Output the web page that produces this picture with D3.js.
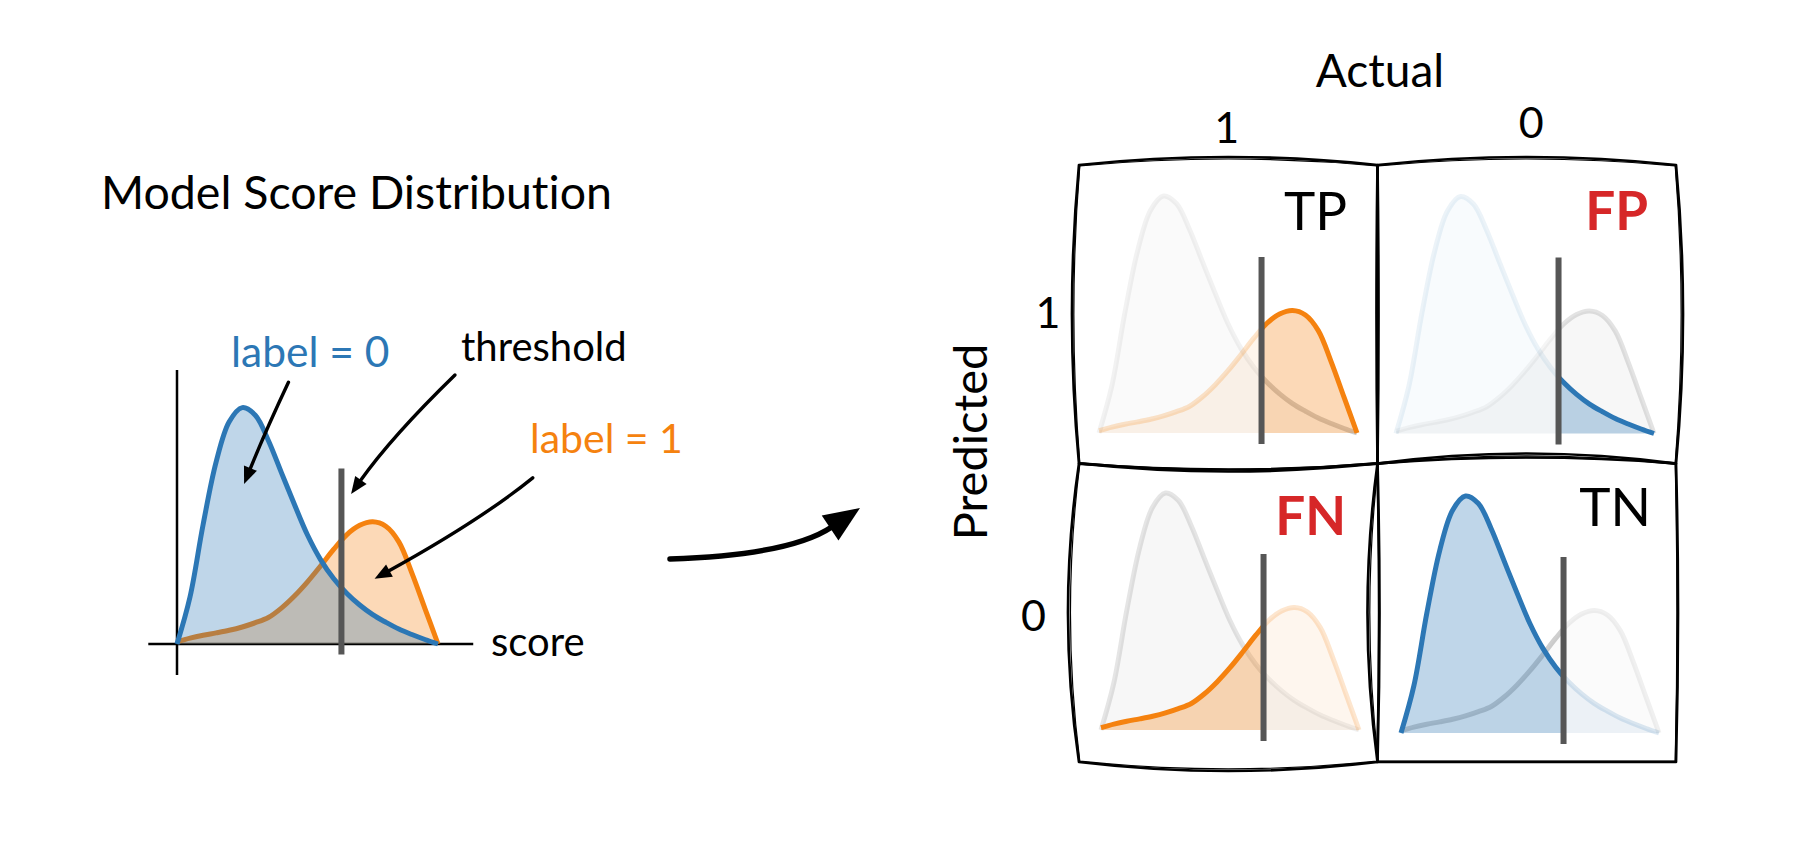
<!DOCTYPE html>
<html>
<head>
<meta charset="utf-8">
<script src="https://cdn.jsdelivr.net/npm/d3@7"></script>
<style>
  html, body { margin: 0; padding: 0; background: #fff; }
  svg { display: block; font-family: Lato, "Open Sans", sans-serif; font-variant-ligatures: none; }
</style>
</head>
<body>
<svg width="1799" height="853"></svg>
<script>
// score grid and the two class densities (peak of label 0 = 1)
const score  = [0, .05, .1, .15, .2, .25, .3, .35, .4, .45, .5, .55, .6, .65, .7, .75, .8, .85, .9, .95, 1];
const label0 = [0, .2, .505, .77, .94, 1, .968, .861, .725, .59, .461, .357, .277, .215, .165, .124, .092, .063, .04, .019, 0];
const label1 = [.01, .025, .037, .047, .058, .072, .09, .112, .152, .203, .263, .33, .40, .462, .502, .517, .498, .432, .30, .15, 0];
const threshold = 0.63;

const actualLabels = ["1", "0"];
const predictedLabels = ["1", "0"];
const cells = [
  {name: "TP", actual: "1", predicted: "1", error: false},
  {name: "FP", actual: "0", predicted: "1", error: true},
  {name: "FN", actual: "1", predicted: "0", error: true},
  {name: "TN", actual: "0", predicted: "0", error: false}
];

const blue = "#2c77b5", orange = "#f5820f", red = "#d62728", thrColor = "#565656";

// hand drawn look of every cell: plot offset, label offset, edge bulges and tones
const cellStyle = {
  TP: {dx: 20,   dy: 268,   lab: [30.5, 65],   bulge: [8, 1, 8, 7],   othHi: .20, othLo: .05, othFill: .018, loLine: .22, loFill: .08},
  FP: {dx: 18.5, dy: 268.5, lab: [28, 65],     bulge: [8, 7, -6, 1],  othHi: .11, othLo: .04, othFill: .03,  loLine: .09, loFill: .03},
  FN: {dx: 22,   dy: 266.5, lab: [31.5, 71.5], bulge: [-6, 2, 9, 11], othHi: .10, othLo: .06, othFill: .03,  loLine: .20, loFill: .07},
  TN: {dx: 23.5, dy: 269.5, lab: [25, 62.5],   bulge: [10, 2, 0, 10], othHi: .19, othLo: .06, othFill: .015, loLine: .16, loFill: .07}
};

const svg = d3.select("svg");
const defs = svg.append("defs");
const curve = d3.curveCatmullRom.alpha(0.5);

function areaGen(xs, ys) {
  return d3.area().x((d, i) => xs(score[i])).y0(ys(0)).y1(d => ys(d)).curve(curve);
}
function lineGen(xs, ys) {
  return d3.line().x((d, i) => xs(score[i])).y(d => ys(d)).curve(curve);
}
function text(g, str, x, y, size, opts) {
  opts = opts || {};
  return g.append("text")
    .attr("x", x).attr("y", y)
    .attr("font-size", size)
    .attr("fill", opts.fill || "#000")
    .attr("font-weight", opts.weight || 400)
    .attr("text-anchor", opts.anchor || "start")
    .text(str);
}

// arrow heads
defs.append("marker").attr("id", "head").attr("markerUnits", "userSpaceOnUse")
  .attr("markerWidth", 40).attr("markerHeight", 40).attr("refX", 0).attr("refY", 0)
  .attr("orient", "auto").attr("overflow", "visible")
  .append("path").attr("d", "M-1,-7L16,0L-1,7Z").attr("fill", "#000");
defs.append("marker").attr("id", "bighead").attr("markerUnits", "userSpaceOnUse")
  .attr("markerWidth", 60).attr("markerHeight", 60).attr("refX", 0).attr("refY", 0)
  .attr("orient", "auto").attr("overflow", "visible")
  .append("path").attr("d", "M-2,-15L34,0L-2,15Z").attr("fill", "#000");

function arrow(g, p0, c, p2, headLen, width, marker) {
  const dx = p2[0] - c[0], dy = p2[1] - c[1], L = Math.hypot(dx, dy);
  const p = d3.path();
  p.moveTo(p0[0], p0[1]);
  p.quadraticCurveTo(c[0], c[1], p2[0] - dx / L * headLen, p2[1] - dy / L * headLen);
  g.append("path").attr("d", p.toString())
    .attr("fill", "none").attr("stroke", "#000").attr("stroke-width", width)
    .attr("stroke-linecap", "round")
    .attr("marker-end", "url(#" + marker + ")");
}

// ---------------- left: model score distribution ----------------
const left = svg.append("g");
const x = d3.scaleLinear().domain([0, 1]).range([177, 438]);
const y = d3.scaleLinear().domain([0, 1]).range([644, 407.6]);

text(left, "Model Score Distribution", 101, 208.5, 46.5);

// axes, no ticks
left.append("line").attr("x1", x(0)).attr("x2", x(0)).attr("y1", y(1.159)).attr("y2", y(-0.131))
  .attr("stroke", "#000").attr("stroke-width", 2.5);
left.append("line").attr("x1", x(-0.11)).attr("x2", x(1.135)).attr("y1", y(0)).attr("y2", y(0))
  .attr("stroke", "#000").attr("stroke-width", 2.5);

left.append("path").attr("d", areaGen(x, y)(label1)).attr("fill", orange).attr("fill-opacity", .3);
left.append("path").attr("d", lineGen(x, y)(label1)).attr("fill", "none").attr("stroke", orange).attr("stroke-width", 5);
left.append("path").attr("d", areaGen(x, y)(label0)).attr("fill", blue).attr("fill-opacity", .3);
left.append("path").attr("d", lineGen(x, y)(label0)).attr("fill", "none").attr("stroke", blue).attr("stroke-width", 5);
left.append("line").attr("x1", x(threshold)).attr("x2", x(threshold))
  .attr("y1", y(0.742)).attr("y2", y(-0.044))
  .attr("stroke", thrColor).attr("stroke-width", 6);

text(left, "label = 0", 231, 367, 42.5, {fill: blue});
text(left, "threshold", 461, 361, 40);
text(left, "label = 1", 530, 453, 41, {fill: orange});
text(left, "score", 491, 656, 40);

// annotation arrows, in score / density units of the left plot
const notes = [
  {from: [.427, 1.107], ctrl: [.338, .898], to: [.257, .677]},
  {from: [1.065, 1.138], ctrl: [.822, .877], to: [.667, .635]},
  {from: [1.363, .703], ctrl: [1.162, .523], to: [.757, .276]}
];
notes.forEach(n => {
  arrow(left, [x(n.from[0]), y(n.from[1])], [x(n.ctrl[0]), y(n.ctrl[1])], [x(n.to[0]), y(n.to[1])], 16, 3.4, "head");
});

// big arrow between the panels
arrow(svg, [670, 559], [790, 555], [860, 508], 34, 5.5, "bighead");

// ---------------- right: confusion matrix ----------------
const right = svg.append("g");
const col = d3.scaleBand().domain(actualLabels).range([1079, 1676]);
const row = d3.scaleBand().domain(predictedLabels).range([165, 762]);
const bw = col.bandwidth(), bh = row.bandwidth();
const miniW = 258, miniH = 237;

text(right, "Actual", 1380, 87, 46, {anchor: "middle"});
const colNudge = {"1": [-1.5, 143], "0": [4.5, 138]};
actualLabels.forEach(a => {
  text(right, a, col(a) + bw / 2 + colNudge[a][0], colNudge[a][1], 43, {anchor: "middle"});
});
const rowNudge = {"1": [1048, -1.5], "0": [1033.5, 3.5]};
predictedLabels.forEach(p => {
  text(right, p, rowNudge[p][0], row(p) + bh / 2 + rowNudge[p][1] + 15, 43, {anchor: "middle"});
});
right.append("text")
  .attr("transform", "translate(987,442) rotate(-90)")
  .attr("font-size", 47).attr("text-anchor", "middle").attr("fill", "#000")
  .text("Predicted");

function sketchRect(x0, y0, x1, y1, b) {
  const p = d3.path();
  p.moveTo(x0, y0);
  p.quadraticCurveTo((x0 + x1) / 2, y0 - 2 * b[0], x1, y0);
  p.quadraticCurveTo(x1 + 2 * b[1], (y0 + y1) / 2, x1, y1);
  p.quadraticCurveTo((x0 + x1) / 2, y1 + 2 * b[2], x0, y1);
  p.quadraticCurveTo(x0 - 2 * b[3], (y0 + y1) / 2, x0, y0);
  p.closePath();
  return p.toString();
}

cells.forEach((c, k) => {
  const st = cellStyle[c.name];
  const cx = col(c.actual), cy = row(c.predicted);
  const xs = d3.scaleLinear().domain([0, 1]).range([cx + st.dx, cx + st.dx + miniW]);
  const ys = d3.scaleLinear().domain([0, 1]).range([cy + st.dy, cy + st.dy - miniH]);
  const act = c.actual === "1" ? label1 : label0;
  const oth = c.actual === "1" ? label0 : label1;
  const color = c.actual === "1" ? orange : blue;
  const tx = xs(threshold);
  const hiRight = c.predicted === "1";

  defs.append("clipPath").attr("id", "L" + k).append("rect")
    .attr("x", cx - 30).attr("y", cy - 30).attr("width", tx - cx + 30).attr("height", bh + 60);
  defs.append("clipPath").attr("id", "R" + k).append("rect")
    .attr("x", tx).attr("y", cy - 30).attr("width", cx + bw - tx + 30).attr("height", bh + 60);
  const hi = "url(#" + (hiRight ? "R" : "L") + k + ")";
  const lo = "url(#" + (hiRight ? "L" : "R") + k + ")";

  const g = right.append("g");
  // other class, greyed out
  g.append("path").attr("d", areaGen(xs, ys)(oth)).attr("fill", "#000").attr("fill-opacity", st.othFill);
  g.append("path").attr("d", lineGen(xs, ys)(oth)).attr("clip-path", hi)
    .attr("fill", "none").attr("stroke", "#000").attr("stroke-opacity", st.othHi).attr("stroke-width", 5);
  g.append("path").attr("d", lineGen(xs, ys)(oth)).attr("clip-path", lo)
    .attr("fill", "none").attr("stroke", "#000").attr("stroke-opacity", st.othLo).attr("stroke-width", 5);
  // actual class, faded side
  g.append("path").attr("d", areaGen(xs, ys)(act)).attr("clip-path", lo)
    .attr("fill", color).attr("fill-opacity", st.loFill);
  g.append("path").attr("d", lineGen(xs, ys)(act)).attr("clip-path", lo)
    .attr("fill", "none").attr("stroke", color).attr("stroke-opacity", st.loLine).attr("stroke-width", 5);
  // actual class, highlighted side
  g.append("path").attr("d", areaGen(xs, ys)(act)).attr("clip-path", hi)
    .attr("fill", color).attr("fill-opacity", .3);
  g.append("path").attr("d", lineGen(xs, ys)(act)).attr("clip-path", hi)
    .attr("fill", "none").attr("stroke", color).attr("stroke-width", 5);
  g.append("line").attr("x1", tx).attr("x2", tx).attr("y1", ys(0.743)).attr("y2", ys(-0.046))
    .attr("stroke", thrColor).attr("stroke-width", 6);

  text(g, c.name, cx + bw - st.lab[0], cy + st.lab[1], 53,
    {anchor: "end", fill: c.error ? red : "#000", weight: c.error ? 700 : 400});

  // sketchy cell border, drawn twice
  g.append("path").attr("d", sketchRect(cx, cy, cx + bw, cy + bh, st.bulge))
    .attr("fill", "none").attr("stroke", "#000").attr("stroke-width", 2.7).attr("stroke-linejoin", "round");
  g.append("path").attr("d", sketchRect(cx + 0.8, cy + 0.8, cx + bw - 0.8, cy + bh - 0.8, st.bulge.map(v => v * 0.85)))
    .attr("fill", "none").attr("stroke", "#000").attr("stroke-width", 1.2).attr("stroke-linejoin", "round");
});
</script>
</body>
</html>
